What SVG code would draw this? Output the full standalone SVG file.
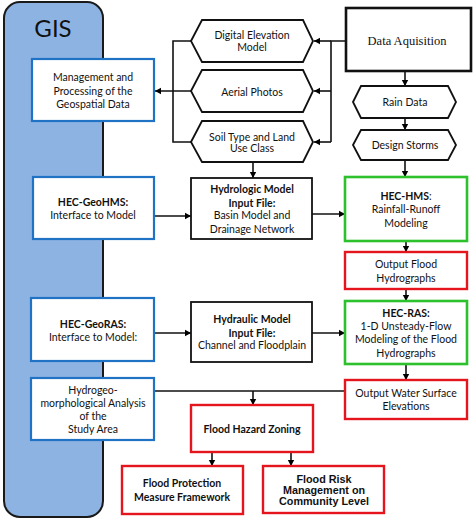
<svg xmlns="http://www.w3.org/2000/svg" width="474" height="524" viewBox="0 0 474 524">
<defs>
<marker id="ah" markerUnits="userSpaceOnUse" markerWidth="8" markerHeight="8" refX="6" refY="4" orient="auto">
<path d="M0,0.8 L6,4 L0,7.2 Z" fill="#000"/>
</marker>
<style>
.t{font-family:Lato,"Open Sans",sans-serif;font-size:10.5px;fill:#111;text-anchor:middle}
.b{font-weight:bold}
.blue{fill:#fff;stroke:#1F72C4;stroke-width:2.2}
.blk{fill:#fff;stroke:#111;stroke-width:1.8}
.grn{fill:#fff;stroke:#2EC12E;stroke-width:2.6}
.red{fill:#fff;stroke:#E5151E;stroke-width:2.4}
.hex{fill:#fff;stroke:#111;stroke-width:1.8}
.c{fill:none;stroke:#111;stroke-width:1.6}
.ca{fill:none;stroke:#111;stroke-width:1.6;marker-end:url(#ah)}
</style>
</defs>
<rect width="474" height="524" fill="#fff"/>
<g id="gis">
<rect x="4" y="2" width="99" height="515" rx="16" ry="16" fill="#8DB3E3" stroke="#1a1a1a" stroke-width="2"/>
<text x="53" y="37" style="font-family:Lato,'Open Sans',sans-serif;font-size:24px;fill:#111;text-anchor:middle">GIS</text>
</g>
<g id="connectors">
<path class="c" d="M192,41 H173 V142 H192"/>
<path class="ca" d="M191,91 H155"/>
<path class="c" d="M346,41 H331 V142"/>
<path class="ca" d="M331,41 H314"/>
<path class="ca" d="M331,91 H314"/>
<path class="ca" d="M331,142 H314"/>
<path class="ca" d="M405,71 V86"/>
<path class="ca" d="M405,118 V130"/>
<path class="ca" d="M405,160 V177"/>
<path class="ca" d="M253,162 V178"/>
<path class="ca" d="M154,216 H191"/>
<path class="ca" d="M312,214 H345"/>
<path class="ca" d="M406,241 V252"/>
<path class="ca" d="M406,289 V301"/>
<path class="ca" d="M406,364 V380"/>
<path class="ca" d="M154,333 H191"/>
<path class="ca" d="M312,333 H345"/>
<path class="c" d="M154,391 H345"/>
<path class="ca" d="M253,391 V405"/>
<path class="ca" d="M212,452 V466"/>
<path class="ca" d="M291,452 V466"/>
</g>
<g id="management">
<rect class="blue" x="32" y="59" width="122" height="62"/>
<text class="t" x="93" y="81">Management and</text>
<text class="t" x="93" y="95">Processing of the</text>
<text class="t" x="93" y="108">Geospatial Data</text>
</g>
<g id="dem">
<polygon class="hex" points="191,41 202,20 303,20 313,41 303,62 202,62"/>
<text class="t" x="252" y="39">Digital Elevation</text>
<text class="t" x="252" y="51">Model</text>
</g>
<g id="aerial">
<polygon class="hex" points="191,91 202,70 303,70 313,91 303,112 202,112"/>
<text class="t" x="252" y="96">Aerial Photos</text>
</g>
<g id="soil">
<polygon class="hex" points="191,142 202,121 303,121 313,142 303,162 202,162"/>
<text class="t" x="252" y="141">Soil Type and Land</text>
<text class="t" x="252" y="152">Use Class</text>
</g>
<g id="data-acquisition">
<rect x="346" y="8" width="125" height="63" fill="#fff" stroke="#111" stroke-width="2.6"/>
<text x="407" y="45" style="font-family:'Liberation Serif',serif;font-size:12.5px;fill:#111;text-anchor:middle">Data Aquisition</text>
</g>
<g id="rain">
<polygon class="hex" points="353,102 361,86 448,86 456,102 448,118 361,118"/>
<text class="t" x="405" y="106">Rain Data</text>
</g>
<g id="storms">
<polygon class="hex" points="353,145 361,130 448,130 456,145 448,160 361,160"/>
<text class="t" x="405" y="149">Design Storms</text>
</g>
<g id="geohms">
<rect class="blue" x="33" y="177" width="121" height="62"/>
<text class="t b" x="93" y="206">HEC-GeoHMS:</text>
<text class="t" x="93" y="219">Interface to Model</text>
</g>
<g id="hydrologic">
<rect class="blk" x="191" y="178" width="121" height="61"/>
<text class="t b" x="252" y="193">Hydrologic Model</text>
<text class="t b" x="252" y="207">Input File:</text>
<text class="t" x="252" y="219">Basin Model and</text>
<text class="t" x="252" y="233">Drainage Network</text>
</g>
<g id="hec-hms">
<rect class="grn" x="345" y="177" width="122" height="64"/>
<text class="t" x="406" y="200"><tspan class="b">HEC-HMS</tspan>:</text>
<text class="t" x="406" y="213">Rainfall-Runoff</text>
<text class="t" x="406" y="227">Modeling</text>
</g>
<g id="output-flood">
<rect class="red" x="345" y="252" width="122" height="37"/>
<text class="t" x="406" y="268">Output Flood</text>
<text class="t" x="406" y="282">Hydrographs</text>
</g>
<g id="georas">
<rect class="blue" x="31" y="298" width="123" height="63"/>
<text class="t b" x="93" y="328">HEC-GeoRAS:</text>
<text class="t" x="93" y="341">Interface to Model:</text>
</g>
<g id="hydraulic">
<rect class="blk" x="191" y="302" width="121" height="60"/>
<text class="t b" x="252" y="323">Hydraulic Model</text>
<text class="t b" x="252" y="337">Input File:</text>
<text class="t" x="252" y="349">Channel and Floodplain</text>
</g>
<g id="hec-ras">
<rect class="grn" x="345" y="301" width="122" height="63"/>
<text class="t b" x="406" y="317">HEC-RAS:</text>
<text class="t" x="406" y="330">1-D Unsteady-Flow</text>
<text class="t" x="406" y="343">Modeling of the Flood</text>
<text class="t" x="406" y="357">Hydrographs</text>
</g>
<g id="output-water">
<rect class="red" x="345" y="380" width="122" height="39"/>
<text class="t" x="406" y="397">Output Water Surface</text>
<text class="t" x="406" y="410">Elevations</text>
</g>
<g id="hydrogeo">
<rect class="blue" x="31" y="378" width="123" height="62"/>
<text class="t" x="93" y="394">Hydrogeo-</text>
<text class="t" x="93" y="407">morphological Analysis</text>
<text class="t" x="93" y="420">of the</text>
<text class="t" x="93" y="433">Study Area</text>
</g>
<g id="hazard">
<rect class="red" x="191" y="405" width="122" height="47"/>
<text class="t b" x="252" y="433">Flood Hazard Zoning</text>
</g>
<g id="protection">
<rect class="red" x="122" y="466" width="121" height="48"/>
<text class="t b" x="182" y="487">Flood Protection</text>
<text class="t b" x="182" y="501">Measure Framework</text>
</g>
<g id="risk">
<rect class="red" x="263" y="466" width="121" height="47"/>
<text x="324" y="483" style="font-family:'Liberation Sans',Arial,sans-serif;font-size:10.8px;font-weight:bold;fill:#111;text-anchor:middle">Flood Risk</text>
<text x="324" y="494" style="font-family:'Liberation Sans',Arial,sans-serif;font-size:10.8px;font-weight:bold;fill:#111;text-anchor:middle">Management on</text>
<text x="324" y="505" style="font-family:'Liberation Sans',Arial,sans-serif;font-size:10.8px;font-weight:bold;fill:#111;text-anchor:middle">Community Level</text>
</g>
</svg>
